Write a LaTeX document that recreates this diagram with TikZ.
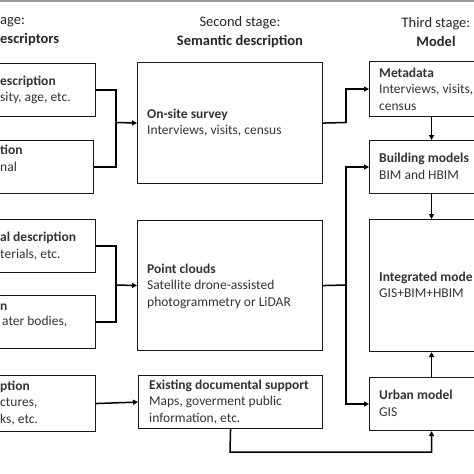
\documentclass[tikz,border=0pt]{standalone}
\usepackage{fontspec}
\setmainfont{Carlito}
\usetikzlibrary{arrows.meta}
\begin{document}
\begin{tikzpicture}[x=1pt,y=-1pt,
  box/.style={draw=black!90, line width=1.1pt, anchor=north west, inner sep=0pt},
  txt/.style={anchor=west, inner sep=0pt, align=left, text=black!80, font=\fontsize{13.5}{16.5}\selectfont},
  hdr/.style={inner sep=0pt, align=center, text=black!85, font=\fontsize{14.5}{19}\selectfont},
  conn/.style={draw=black, line width=1.5pt},
  arr/.style={conn, -{Triangle[length=5pt,width=5pt]}}]
\useasboundingbox (0,0) rectangle (474,474);
\fill[black!40] (0,0) rectangle (474,2);
% headers
\node[hdr, anchor=west] (h1a) at (0,22) {age:};
\node[hdr, anchor=west] (h1b) at (0,40) {\textbf{escriptors}};
\node[hdr] (h2) at (240,32.5) {Second stage:\\\textbf{Semantic description}};
\node[hdr] (h3) at (436,32.5) {Third stage:\\\textbf{Model}};
% left column boxes
\node[box, minimum width=105, minimum height=53] (L1) at (-10,63) {};
\node[box, minimum width=103, minimum height=53] (L2) at (-10,140) {};
\node[box, minimum width=105, minimum height=53] (L3) at (-10,219) {};
\node[box, minimum width=105, minimum height=53] (L4) at (-10,295) {};
\node[box, minimum width=105, minimum height=56] (L5) at (-10,375) {};
\node[txt] (tL1) at (0,90) {\textbf{escription}\\sity, age, etc.};
\node[txt] (tL2) at (0,158.5) {\textbf{tion}\\nal};
\node[txt] (tL3) at (0,246) {\textbf{al description}\\terials, etc.};
\node[txt] (tL4a) at (0,307) {\textbf{n}};
\node[txt] (tL4b) at (2,322) {ater bodies,};
\node[txt] (tL5) at (0,403) {\textbf{ption}\\ctures,\\ks, etc.};
% middle column
\node[box, minimum width=185, minimum height=121] (M1) at (137,62) {};
\node[box, minimum width=185, minimum height=130] (M2) at (137,220) {};
\node[box, minimum width=184, minimum height=53] (M3) at (138,375) {};
\node[txt] (tM1) at (147,122.5) {\textbf{On-site survey}\\Interviews, visits, census};
\node[txt] (tM2) at (147,286) {\textbf{Point clouds}\\Satellite drone-assisted\\photogrammetry or LiDAR};
\node[txt] (tM3) at (149,402) {\textbf{Existing documental support}\\Maps, goverment public\\information, etc.};
% right column
\node[box, minimum width=124, minimum height=55] (R1) at (369,61) {};
\node[box, minimum width=124, minimum height=53] (R2) at (369,140) {};
\node[box, minimum width=124, minimum height=132] (R3) at (369,219) {};
\node[box, minimum width=124, minimum height=53] (R4) at (369,377) {};
\node[txt] (tR1) at (379,89) {\textbf{Metadata}\\Interviews, visits,\\census};
\node[txt] (tR2) at (379,166.5) {\textbf{Building models}\\BIM and HBIM};
\node[txt] (tR3) at (379,285) {\textbf{Integrated mode}\\GIS+BIM+HBIM};
\node[txt] (tR4) at (379,403.5) {\textbf{Urban model}\\GIS};
% connectors
\coordinate (b1) at (116,122.5);
\coordinate (b2) at (116,285);
\coordinate (b3) at (346,285);
\coordinate (b4) at (346,122.5);
\coordinate (b5) at (230,452);
\draw[conn] (L1.east) -| (b1) |- (L2.east);
\draw[arr] (b1) -- (M1.west);
\draw[conn] (L3.east) -| (b2) |- (L4.east);
\draw[arr] (b2) -- (M2.west);
\draw[arr] (L5.east) -- (M3.west);
\draw[conn] (M1.east) -- (b4);
\draw[arr] (b4) |- (R1.west);
\draw[conn] (M2.east) -- (b3);
\draw[arr] (b3) |- (R2.west);
\draw[arr] (b3) |- (R4.west);
\draw[arr] (M3.south) -- (b5) -| (R4.south);
\draw[arr] (R1.south) -- (R2.north);
\draw[arr] (R2.south) -- (R3.north);
\draw[arr] (R4.north) -- (R3.south);
\end{tikzpicture}
\end{document}
